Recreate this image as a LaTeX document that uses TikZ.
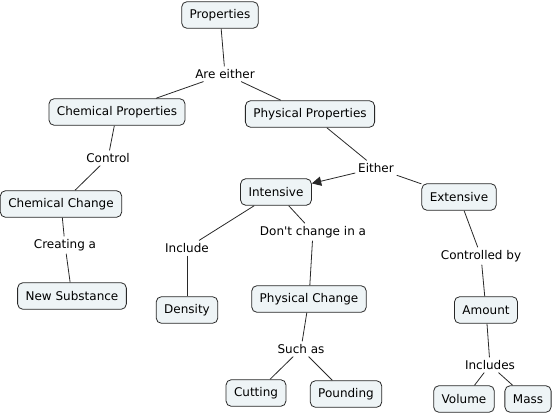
\documentclass[tikz,border=0pt]{standalone}
\usepackage{fontspec}
\setmainfont{DejaVu Sans}
\usetikzlibrary{arrows.meta}
\definecolor{cmfill}{RGB}{238,244,246}
\definecolor{cmline}{RGB}{40,40,40}

\begin{document}
\begin{tikzpicture}[
  x=0.75pt, y=-0.75pt,
  font=\fontsize{9}{11}\selectfont,
  concept/.style={draw=cmline, fill=cmfill, rounded corners=4pt,
    line width=0.6pt, minimum height=20pt, inner xsep=6pt},
  phrase/.style={inner sep=2pt, fill=white},
  link/.style={draw=cmline, line width=0.6pt},
  arr/.style={link, -{Triangle[length=7pt,width=7pt]}}]

\useasboundingbox (0,0) rectangle (554,414);

% ---- concepts (x,y in px from top left) ----
\node[concept] (props)    at (220,15)  {Properties};
\node[concept] (chemprop) at (117,112) {Chemical Properties};
\node[concept] (physprop) at (310,114) {Physical Properties};
\node[concept] (chemchg)  at (61,204)  {Chemical Change};
\node[concept] (newsub)   at (72,296)  {New Substance};
\node[concept] (intens)   at (276,192) {Intensive};
\node[concept] (extens)   at (459,197) {Extensive};
\node[concept] (density)  at (187,310) {Density};
\node[concept] (physchg)  at (309,299) {Physical Change};
\node[concept] (amount)   at (486,310) {Amount};
\node[concept] (cutting)  at (256,393) {Cutting};
\node[concept] (pounding) at (346,394) {Pounding};
\node[concept] (volume)   at (464,399) {Volume};
\node[concept] (mass)     at (528,399) {Mass};

% ---- linking phrases ----
\node[phrase] (areeither) at (225,74)  {Are either};
\node[phrase] (control)   at (108,158) {Control};
\node[phrase] (creating)  at (65,245)  {Creating a};
\node[phrase] (either)    at (376,168) {Either};
\node[phrase] (include)   at (187,248) {Include};
\node[phrase] (dontchg)   at (313,232) {Don\textquotesingle t change in a};
\node[phrase] (ctrlby)    at (481,256) {Controlled by};
\node[phrase] (suchas)    at (301,349) {Such as};
\node[phrase] (includes)  at (490,365) {Includes};

% ---- connectors ----
\draw[link] (props) -- (areeither);
\draw[link] (areeither) -- (chemprop);
\draw[link] (areeither) -- (physprop);
\draw[link] (chemprop) -- (control);
\draw[link] (control) -- (chemchg);
\draw[link] (chemchg) -- (creating);
\draw[link] (creating) -- (newsub);
\draw[link] (physprop) -- (either);
\draw[arr]  (either) -- (intens);
\draw[link] (either) -- (extens);
\draw[link] (intens) -- (include);
\draw[link] (include) -- (density);
\draw[link] (intens) -- (dontchg);
\draw[link] (dontchg) -- (physchg);
\draw[link] (physchg) -- (suchas);
\draw[link] (suchas) -- (cutting);
\draw[link] (suchas) -- (pounding);
\draw[link] (extens) -- (ctrlby);
\draw[link] (ctrlby) -- (amount);
\draw[link] (amount) -- (includes);
\draw[link] (includes) -- (volume);
\draw[link] (includes) -- (mass);
\end{tikzpicture}
\end{document}
